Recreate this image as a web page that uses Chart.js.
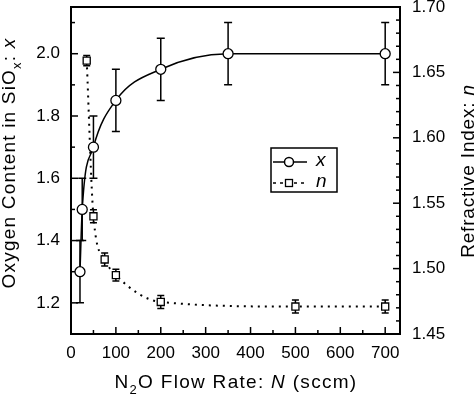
<!DOCTYPE html>
<html>
<head>
<meta charset="utf-8">
<script src="https://cdn.jsdelivr.net/npm/chart.js@4.4.0/dist/chart.umd.min.js"></script>
<style>
  html, body { margin: 0; padding: 0; background: #fff; }
  #wrap { width: 474px; height: 399px; }
</style>
</head>
<body>
<div id="wrap"><canvas id="chart" width="474" height="399"></canvas></div>
<script>
// oxygen content x vs N2O flow (left axis)
const flowX = [20, 25, 50, 100, 200, 350, 700];
const oxygenX = [1.3, 1.5, 1.7, 1.85, 1.95, 2.0, 2.0];
const oxygenErr = [0.1, 0.1, 0.1, 0.1, 0.1, 0.1, 0.1];

// refractive index n vs N2O flow (right axis)
const flowN = [35, 50, 75, 100, 200, 500, 700];
const indexN = [1.659, 1.540, 1.507, 1.495, 1.4745, 1.471, 1.471];
const indexErr = [0.004, 0.005, 0.005, 0.0045, 0.005, 0.005, 0.005];

// ticks
const xTicks = [0, 100, 200, 300, 400, 500, 600, 700];
const xMinor = [50, 150, 250, 350, 450, 550, 650];
const yTicks = [1.2, 1.4, 1.6, 1.8, 2.0];
const yMinor = [1.3, 1.5, 1.7, 1.9, 2.1];
const nTicks = [1.45, 1.50, 1.55, 1.60, 1.65, 1.70];
const nMinor = [1.46, 1.47, 1.48, 1.49, 1.51, 1.52, 1.53, 1.54, 1.56, 1.57, 1.58, 1.59,
                1.61, 1.62, 1.63, 1.64, 1.66, 1.67, 1.68, 1.69];

const FAMILY = '"Liberation Sans", Arial, Helvetica, sans-serif';
const tickFont = { family: FAMILY, size: 17 };

function fontStr(size, italic) {
  return (italic ? 'italic ' : '') + size + 'px ' + FAMILY;
}

// draws text made of parts (normal / italic / subscript), centred on (cx, cy)
function drawRich(ctx, parts, cx, cy, angle, spacing) {
  ctx.save();
  ctx.translate(cx, cy);
  ctx.rotate(angle);
  ctx.letterSpacing = spacing + 'px';
  ctx.textBaseline = 'alphabetic';
  ctx.textAlign = 'left';
  ctx.fillStyle = '#000';
  let total = 0;
  parts.forEach((p) => {
    ctx.font = fontStr(p.sub ? 13 : 19, p.italic);
    p.w = ctx.measureText(p.t).width;
    total += p.w;
  });
  let x = -total / 2;
  parts.forEach((p) => {
    ctx.font = fontStr(p.sub ? 13 : 19, p.italic);
    ctx.fillText(p.t, x, p.sub ? 6 : 0);
    x += p.w;
  });
  ctx.restore();
}

const decorations = {
  id: 'decorations',
  beforeDatasetsDraw(chart) {
    const ctx = chart.ctx;
    const xs = chart.scales.x;
    ctx.save();
    ctx.strokeStyle = '#000';
    ctx.lineWidth = 1.5;
    const bars = (xv, yv, err, scale, cap) => {
      xv.forEach((v, i) => {
        const px = xs.getPixelForValue(v);
        const top = scale.getPixelForValue(yv[i] + err[i]);
        const bot = scale.getPixelForValue(yv[i] - err[i]);
        ctx.beginPath();
        ctx.moveTo(px, top); ctx.lineTo(px, bot);
        ctx.moveTo(px - cap, top); ctx.lineTo(px + cap, top);
        ctx.moveTo(px - cap, bot); ctx.lineTo(px + cap, bot);
        ctx.stroke();
      });
    };
    bars(flowX, oxygenX, oxygenErr, chart.scales.y, 4);
    bars(flowN, indexN, indexErr, chart.scales.y1, 3.5);
    ctx.restore();
  },
  afterDraw(chart) {
    const ctx = chart.ctx;
    const a = chart.chartArea;
    const xs = chart.scales.x, ys = chart.scales.y, yr = chart.scales.y1;
    ctx.save();
    ctx.strokeStyle = '#000';

    // frame
    ctx.lineWidth = 2;
    ctx.strokeRect(a.left, a.top, a.right - a.left, a.bottom - a.top);

    // inward ticks
    ctx.lineWidth = 1.5;
    const line = (x1, y1, x2, y2) => { ctx.beginPath(); ctx.moveTo(x1, y1); ctx.lineTo(x2, y2); ctx.stroke(); };
    xTicks.forEach((v) => { const p = xs.getPixelForValue(v); line(p, a.bottom, p, a.bottom - 7); });
    xMinor.forEach((v) => { const p = xs.getPixelForValue(v); line(p, a.bottom, p, a.bottom - 4); });
    yTicks.forEach((v) => { const p = ys.getPixelForValue(v); line(a.left, p, a.left + 7, p); });
    yMinor.forEach((v) => { const p = ys.getPixelForValue(v); line(a.left, p, a.left + 4, p); });
    nTicks.forEach((v) => { const p = yr.getPixelForValue(v); line(a.right, p, a.right - 7, p); });
    nMinor.forEach((v) => { const p = yr.getPixelForValue(v); line(a.right, p, a.right - 4, p); });

    // axis titles
    drawRich(ctx, [
      { t: 'N' }, { t: '2', sub: true }, { t: 'O Flow Rate: ' }, { t: 'N', italic: true }, { t: ' (sccm)' }
    ], 236, 388, 0, 1.3);
    drawRich(ctx, [
      { t: 'Oxygen Content in SiO' }, { t: 'x', sub: true }, { t: ': ' }, { t: 'x', italic: true }
    ], 15, 163, -Math.PI / 2, 1.2);
    drawRich(ctx, [
      { t: 'Refractive Index: ' }, { t: 'n', italic: true }
    ], 474, 171, -Math.PI / 2, 0.8);

    // legend box
    ctx.lineWidth = 1.5;
    ctx.strokeRect(271, 148, 66, 44);
    ctx.lineWidth = 1.5;
    line(273, 162, 307, 162);
    ctx.fillStyle = '#fff';
    ctx.beginPath(); ctx.arc(289, 162, 4.5, 0, Math.PI * 2); ctx.fill(); ctx.stroke();
    ctx.setLineDash([3, 4]);
    ctx.lineWidth = 1.5;
    line(273, 183, 284, 183);
    line(294, 183, 308, 183);
    ctx.setLineDash([]);
    ctx.lineWidth = 1.3;
    ctx.fillRect(285.5, 179.5, 7, 7);
    ctx.strokeRect(285.5, 179.5, 7, 7);
    ctx.fillStyle = '#000';
    ctx.font = fontStr(19, true);
    ctx.textBaseline = 'middle';
    ctx.textAlign = 'left';
    ctx.fillText(chart.data.datasets[0].label, 316, 161);
    ctx.fillText(chart.data.datasets[1].label, 316, 182);
    ctx.restore();
  }
};

new Chart(document.getElementById('chart'), {
  type: 'line',
  data: {
    datasets: [
      {
        label: 'x',
        data: flowX.map((v, i) => ({ x: v, y: oxygenX[i] })),
        yAxisID: 'y',
        borderColor: '#000',
        borderWidth: 1.5,
        pointStyle: 'circle',
        pointRadius: 5,
        pointBackgroundColor: '#fff',
        pointBorderColor: '#000',
        pointBorderWidth: 1.3,
        cubicInterpolationMode: 'monotone',
        fill: false
      },
      {
        label: 'n',
        data: flowN.map((v, i) => ({ x: v, y: indexN[i] })),
        yAxisID: 'y1',
        borderColor: '#000',
        borderWidth: 2,
        borderDash: [2, 5],
        pointStyle: 'rect',
        pointRadius: 5,
        pointBackgroundColor: '#fff',
        pointBorderColor: '#000',
        pointBorderWidth: 1.3,
        cubicInterpolationMode: 'monotone',
        fill: false
      }
    ]
  },
  options: {
    responsive: false,
    devicePixelRatio: 1,
    animation: false,
    events: [],
    layout: { padding: { top: 7, left: 0, right: 0, bottom: 0 } },
    plugins: { legend: { display: false }, tooltip: { enabled: false } },
    scales: {
      x: {
        type: 'linear',
        min: 0,
        max: 733,
        grid: { display: false, drawTicks: false },
        border: { display: false },
        ticks: { font: tickFont, color: '#000', padding: 9, maxRotation: 0, autoSkip: false },
        afterBuildTicks: (s) => { s.ticks = xTicks.map((v) => ({ value: v })); },
        afterFit: (s) => { s.height = 65; s.paddingLeft = 0; s.paddingRight = 0; }
      },
      y: {
        position: 'left',
        min: 1.1,
        max: 2.15,
        grid: { display: false, drawTicks: false },
        border: { display: false },
        ticks: { font: tickFont, color: '#000', padding: 11, callback: (v) => v.toFixed(1) },
        afterBuildTicks: (s) => { s.ticks = yTicks.map((v) => ({ value: v })); },
        afterFit: (s) => { s.width = 71; s.paddingTop = 0; s.paddingBottom = 0; }
      },
      y1: {
        position: 'right',
        min: 1.45,
        max: 1.70,
        grid: { display: false, drawTicks: false },
        border: { display: false },
        ticks: { font: tickFont, color: '#000', padding: 12, callback: (v) => v.toFixed(2) },
        afterBuildTicks: (s) => { s.ticks = nTicks.map((v) => ({ value: v })); },
        afterFit: (s) => { s.width = 74; s.paddingTop = 0; s.paddingBottom = 0; }
      }
    }
  },
  plugins: [decorations]
});
</script>
</body>
</html>
